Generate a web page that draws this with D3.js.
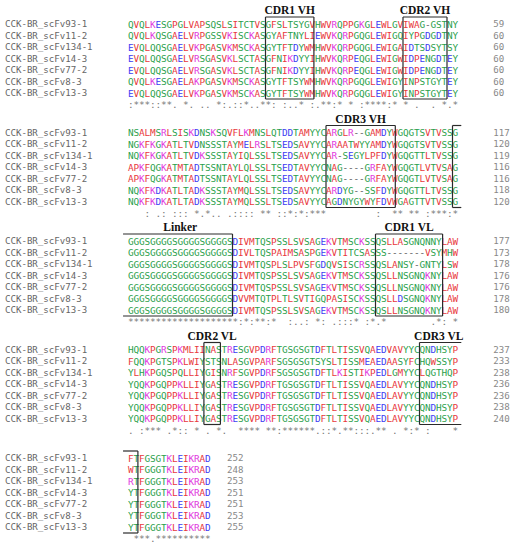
<!DOCTYPE html>
<html>
<head>
<meta charset="utf-8">
<script src="https://cdnjs.cloudflare.com/ajax/libs/d3/7.8.5/d3.min.js"></script>
<style>
  body { margin: 0; background: #fff; }
</style>
</head>
<body>
<div id="chart-area"></div>
<script>
const WIDTH = 512
const HEIGHT = 550
const COLS = 60

// sequence names (rows)
const names = ["CCK-BR_scFv93-1", "CCK-BR_scFv11-2", "CCK-BR_scFv134-1", "CCK-BR_scFv14-3",
  "CCK-BR_scFv77-2", "CCK-BR_scFv8-3", "CCK-BR_scFv13-3"]

// alignment, one array per printed block
const block1 = [
  "QVQLKESGPGLVAPSQSLSITCTVSGFSLTSYGVHWVRQPPGKGLEWLGVIWAG-GSTNY",
  "QVQLKQSGAELVRPGSSVKISCKASGYAFTNYLIEWVKQRPGQGLEWIGQIYPGDGDTNY",
  "EVQLQQSGAELVKPGASVKMSCKASGYTFTDYWMHWVKQRPGQGLEWIGAIDTSDSYTSY",
  "EVQLQQSGAELVRSGASVKLSCTASGFNIKDYYIHWVKQRPEQGLEWIGWIDPENGDTEY",
  "EVQLQQSGAELVRSGASVKLSCTASGFNIKDYYIHWVKQRPEQGLEWIGWIDPENGDTEY",
  "QVQLKESGAELAKPGASVKMSCKASGYTFTSYWMHWVKQRPGQGLEWIGYINPSTGYTEY",
  "EVQLQQSGAELVKPGASVKMSCKASGYTFTSYWMHWVKQRPGQGLEWIGYINPSTGYTEY"
]
const block2 = [
  "NSALMSRLSISKDNSKSQVFLKMNSLQTDDTAMYYCARGLR--GAMDYWGQGTSVTVSSG",
  "NGKFKGKATLTVDNSSSTAYMELRSLTSEDSAVYYCARAATWYYAMDYWGQGTSVTVSSG",
  "NQKFKGKATLTVDKSSSTAYIQLSSLTSEDSAVYYCAR-SEGYLPFDYWGQGTTLTVSSG",
  "APKFQGKATMTADTSSNTAYLQLSSLTSEDTAVYYCNAG----GRFAYWGQGTLVTVSAG",
  "APKFQGKATMTADTSSNTAYLQLSSLTSEDTAVYYCNAG----GRFAYWGQGTLVTVSAG",
  "NQKFKDKATLTADKSSSTAYMQLSSLTSEDSAVYYCARDYG--SSFDYWGQGTTLTVSSG",
  "NQKFKDKATLTADKSSSTAYMQLSSLTSEDSAVYYCAGDNYGYWYFDVWGAGTTVTVSSG"
]
const block3 = [
  "GGGSGGGGSGGGGSGGGGSDIVMTQSPSSLSVSAGEKVTMSCKSSQSLLASGNQNNYLAW",
  "GGGSGGGGSGGGGSGGGGSDIVLTQSPAIMSASPGEKVTITCSASSS-------VSYMHW",
  "GGGSGGGGSGGGGSGGGGSDIVMTQSPLSLPVSFGDQVSISCRSSQSLANSY-GNTYLSW",
  "GGGSGGGGSGGGGSGGGGSDIVMTQSPSSLSVSAGEKVTMSCKSSQSLLNSGNQKNYLAW",
  "GGGSGGGGSGGGGSGGGGSDIVMTQSPSSLSVSAGEKVTMSCKSSQSLLNSGNQKNYLAW",
  "GGGSGGGGSGGGGSGGGGSDVVMTQTPLTLSVTIGQPASISCKSSQSLLDSGNQKNYLAW",
  "GGGSGGGGSGGGGSGGGGSDIVMTQSPSSLSVSAGEKVTMSCKSSQSLLNSGNQKNYLAW"
]
const block4 = [
  "HQQKPGRSPKMLIINASTRESGVPDRFTGSGSGTDFTLTISSVQAEDVAVYYCQNDHSYP",
  "FQQKPGTSPKLWIYSTSNLASGVPARFSGSGSGTSYSLTISSMEAEDAASYFCHQWSSYP",
  "YLHKPGQSPQLLIYGISNRFSGVPDRFSGSGSGTDFTLKISTIKPEDLGMYYCLQGTHQP",
  "YQQKPGQPPKLLIYGASTRESGVPDRFTGSGSGTDFTLTISSVQAEDLAVYYCQNDHSYP",
  "YQQKPGQPPKLLIYGASTRESGVPDRFTGSGSGTDFTLTISSVQAEDLAVYYCQNDHSYP",
  "YQQKPGQPPKLLIYGASTRESGVPDRFTGSGSGTDFTLTISSVQAEDLAVYYCQNDHSYP",
  "YQQKPGQPPKLLIYGASTRESGVPDRFTGSGSGTDFTLTISSVQAEDLAVYYCQNDHSYP"
]
const block5 = [
  "FTFGSGTKLEIKRAD",
  "WTFGGGTKLEIKRAD",
  "RTFGGGTKLEIKRAD",
  "YTFGGGTKLEIKRAD",
  "YTFGGGTKLEIKRAD",
  "YTFGGGTKLEIKRAD",
  "YTFGGGTKLEIKRAD"
]
const blocks = [block1, block2, block3, block4, block5]

// boxed regions, in alignment columns (can run over a block break)
const regions = [
  { label: "CDR1 VH", start: 25, end: 33.8 },
  { label: "CDR2 VH", start: 50, end: 58 },
  { label: "CDR3 VH", start: 96, end: 108.6 },
  { label: "Linker", start: 119, end: 139 },
  { label: "CDR1 VL", start: 165, end: 177.2 },
  { label: "CDR2 VL", start: 193.8, end: 196.8 },
  { label: "CDR3 VL", start: 233, end: 241.8 }
]

// clustal conservation groups
const strong = ["STA", "NEQK", "NHQK", "NDEQ", "QHRK", "MILV", "MILF", "HY", "FYW"]
const weak = ["CSA", "ATV", "SAG", "STNK", "STPA", "SGND", "SNDEQK", "NDEQHK", "NEQHRK", "FVLIM", "HFY"]

function conservation(column) {
  const set = Array.from(new Set(column))
  if (set.includes("-")) return " "
  if (set.length === 1) return "*"
  if (strong.some(g => set.every(c => g.includes(c)))) return ":"
  if (weak.some(g => set.every(c => g.includes(c)))) return "."
  return " "
}

function residueColor(c) {
  if ("AVFPMILW".includes(c)) return "#e8383c"
  if ("DE".includes(c)) return "#3d3df2"
  if ("RK".includes(c)) return "#e13be0"
  if ("STYHCNGQ".includes(c)) return "#2b9f4c"
  return "#555"
}

const svg = d3.select("#chart-area").append("svg")
  .attr("width", WIDTH)
  .attr("height", HEIGHT)

svg.append("rect").attr("width", WIDTH).attr("height", HEIGHT).attr("fill", "#fff")

const MONO = "'DejaVu Sans Mono', 'Liberation Mono', monospace"

const x = d3.scaleLinear()
  .domain([0, COLS])
  .range([128, 458])

const BLOCK_TOP = 24
const BLOCK_STEP = 108.5
const ROW_STEP = 11.5

const counts = names.map(() => 0)

blocks.forEach((rows, b) => {
  const y = d3.scaleLinear()
    .domain([0, 7])
    .range([BLOCK_TOP + b * BLOCK_STEP, BLOCK_TOP + b * BLOCK_STEP + 7 * ROW_STEP])
  const len = rows[0].length
  const g = svg.append("g").attr("class", "block")

  rows.forEach((seq, i) => {
    counts[i] += seq.replace(/-/g, "").length

    g.append("text")
      .attr("x", 5)
      .attr("y", y(i))
      .attr("dominant-baseline", "central")
      .attr("font-family", MONO)
      .attr("font-size", "9.1px")
      .attr("fill", "#666")
      .text(names[i])

    g.selectAll(null)
      .data(seq.split(""))
      .enter().append("text")
      .attr("x", (d, j) => x(j + 0.5))
      .attr("y", y(i))
      .attr("text-anchor", "middle")
      .attr("dominant-baseline", "central")
      .attr("font-family", MONO)
      .attr("font-size", "9.4px")
      .attr("fill", d => residueColor(d))
      .text(d => d)

    const numCol = len === COLS ? 66.4 : len + 3
    g.append("text")
      .attr("x", x(numCol))
      .attr("y", y(i))
      .attr("dominant-baseline", "central")
      .attr("font-family", MONO)
      .attr("font-size", "9.1px")
      .attr("fill", "#888")
      .text(counts[i])
  })

  // consensus line
  const cons = d3.range(len).map(j => conservation(rows.map(r => r[j])))
  g.selectAll(null)
    .data(cons)
    .enter().append("text")
    .attr("x", (d, j) => x(j + 0.5))
    .attr("y", y(7))
    .attr("text-anchor", "middle")
    .attr("dominant-baseline", "central")
    .attr("font-family", MONO)
    .attr("font-size", "9.4px")
    .attr("fill", "#777")
    .text(d => d)

  // region boxes
  const top = y(0) - 7
  const bottom = y(6) + 6
  const bStart = b * COLS
  regions.forEach(r => {
    const s = Math.max(r.start, bStart) - bStart
    const e = Math.min(r.end, bStart + len) - bStart
    if (s >= e) return
    const hasLeft = r.start >= bStart
    const hasRight = r.end <= bStart + len
    const x0 = hasLeft ? x(s) : x(-0.9)
    const x1 = hasRight ? x(e) : x(len + 0.6)
    const box = g.append("g")
      .attr("fill", "none")
      .attr("stroke", "#2a2a2a")
      .attr("stroke-width", 1.2)
    box.append("line").attr("x1", x0).attr("x2", x1).attr("y1", top).attr("y2", top)
    box.append("line").attr("x1", x0).attr("x2", x1).attr("y1", bottom).attr("y2", bottom)
    if (hasLeft) box.append("line").attr("x1", x(s)).attr("x2", x(s)).attr("y1", top).attr("y2", bottom)
    if (hasRight) box.append("line").attr("x1", x(e)).attr("x2", x(e)).attr("y1", top).attr("y2", bottom)

    // label goes over the widest piece of the region
    const pieces = blocks.map((rr, k) => {
      const bs = k * COLS, bl = rr[0].length
      return Math.max(0, Math.min(r.end, bs + bl) - Math.max(r.start, bs))
    })
    if (pieces.indexOf(d3.max(pieces)) === b) {
      g.append("text")
        .attr("x", x((s + e) / 2))
        .attr("y", top - 3)
        .attr("text-anchor", "middle")
        .attr("font-family", "'Liberation Serif', 'Times New Roman', serif")
        .attr("font-weight", "bold")
        .attr("font-size", "11.5px")
        .attr("fill", "#111")
        .text(r.label)
    }
  })
})
</script>
</body>
</html>
